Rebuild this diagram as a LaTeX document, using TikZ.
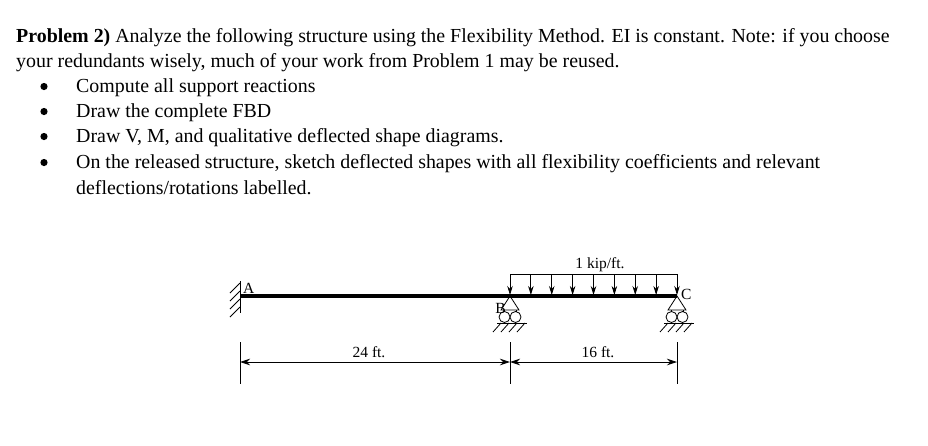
\documentclass[tikz,border=0pt]{standalone}
\usepackage{fontspec}
\setmainfont{Liberation Serif}
\usetikzlibrary{arrows.meta}
\begin{document}
\begin{tikzpicture}[x=1pt,y=-1pt,
  txt/.style={anchor=base west,inner sep=0pt,font=\fontsize{19.9}{22}\selectfont},
  lbl/.style={inner sep=0pt,font=\fontsize{15.5}{17}\selectfont},
  hatch/.style={line width=0.8pt},
  dimarrow/.style={line width=0.8pt},
  load/.style={-{Stealth[length=9pt,width=5.5pt]},line width=0.8pt}]
\useasboundingbox (0,0) rectangle (928,445);
\node[txt] (l1) at (16,42) {\textbf{Problem 2)} Analyze the following structure using the Flexibility Method. EI is constant. Note: if you choose};
\node[txt] (l2) at (16,67) {your redundants wisely, much of your work from Problem 1 may be reused.};
\foreach \y/\t [count=\i] in {92/{Compute all support reactions},117/{Draw the complete FBD},142/{Draw V, M, and qualitative deflected shape diagrams.},168/{On the released structure, sketch deflected shapes with all flexibility coefficients and relevant}}{
  \fill (44,\y-5.5) circle (3.6);
  \node[txt] (b\i) at (76,\y) {\t};
}
\node[txt] (b5) at (76,194) {deflections/rotations labelled.};
% beam
\coordinate (A) at (240,296);
\coordinate (B) at (510,296);
\coordinate (C) at (677,296);
\draw[line width=3.4pt] (A) -- (C);
% fixed support at A
\draw[line width=1pt] (240,281) -- (240,313);
\foreach \y in {283,291,299,307} \draw[hatch] (240,\y) -- (230,\y+10);
\node[lbl,anchor=south west] (la) at (243,294) {A};
% roller supports
\foreach \p in {B,C}{
  \begin{scope}[shift={(\p)}]
  \draw[line width=0.8pt] (0,0) -- (-9,14) -- (9,14) -- cycle;
  \draw[line width=0.8pt] (-6,14) -- (-6,16) (6,14) -- (6,16);
  \draw[line width=0.8pt] (-5.5,21) circle (5.5) (5.5,21) circle (5.5);
  \draw[line width=0.8pt] (-13,27) -- (17,27);
  \foreach \x in {-9,-1,7,15} \draw[hatch] (\x,27) -- (\x-8,36);
  \end{scope}
}
\node[lbl,anchor=east] (lb) at (506,308) {B};
\node[lbl,anchor=west] (lc) at (681,294) {C};
% distributed load
\draw[line width=0.8pt] (510,274) -- (677,274);
\foreach \i in {0,...,8} \draw[load] ({510+\i*167/8},274) -- ({510+\i*167/8},295);
\node[lbl,anchor=base] (q) at (600,268) {1 kip/ft.};
% dimensions
\foreach \x in {240,510,677} \draw[line width=0.6pt] (\x,342) -- (\x,384);
\coordinate (dA) at (240,362);
\coordinate (dB) at (510,362);
\coordinate (dC) at (677,362);
\draw[dimarrow,{Stealth[length=10pt,width=6.5pt]}-{Stealth[length=10pt,width=6.5pt]}] (dA) -- (dB);
\draw[dimarrow,{Stealth[length=10pt,width=6.5pt]}-{Stealth[length=10pt,width=6.5pt]}] (dB) -- (dC);
\node[lbl,anchor=base] (d1) at (369,357) {24 ft.};
\node[lbl,anchor=base] (d2) at (598,357) {16 ft.};
\end{tikzpicture}
\end{document}
